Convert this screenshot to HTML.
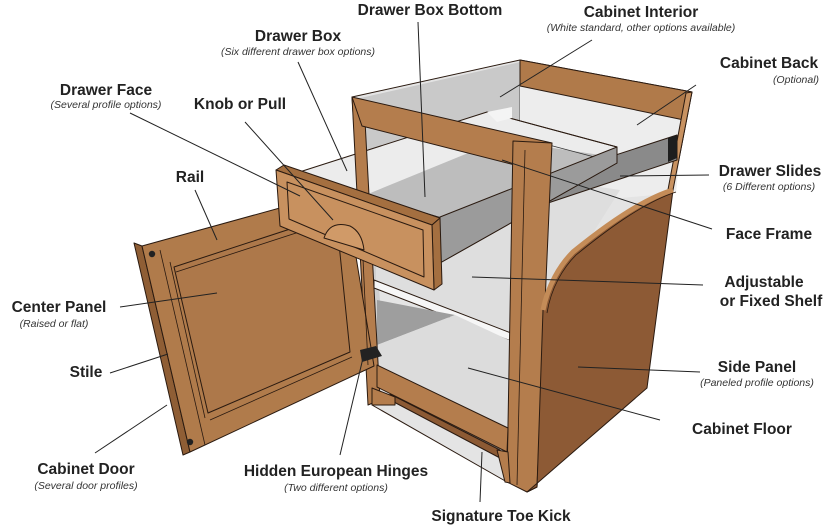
<!DOCTYPE html>
<html><head><meta charset="utf-8"><style>
html,body{margin:0;padding:0;background:#fff;}
svg{display:block;}
.b{font-family:"Liberation Sans",sans-serif;font-weight:bold;font-size:15.5px;fill:#222;}
.i{font-family:"Liberation Sans",sans-serif;font-style:italic;font-size:10.5px;fill:#333;}
.l{stroke:#222;stroke-width:1;fill:none;}
.o{stroke:#2a1a10;stroke-width:1;stroke-linejoin:round;}
</style></head><body>
<svg width="831" height="526" viewBox="0 0 831 526" xmlns="http://www.w3.org/2000/svg">
<!-- interior base -->
<polygon class="o" fill="#e4e4e4" points="352,97 520,60 692,92 673,190 543,313 537,487 507,482 372,405"/>
<!-- left back wall -->
<polygon fill="#c9c9c9" points="356,99 520,62 520,140 370,190"/>
<line x1="520" y1="60" x2="520" y2="150" stroke="#333" stroke-width="0.8"/>
<!-- back panel -->
<polygon fill="#ededed" points="520,85 683,120 676,193 600,200 520,150"/>
<!-- back top strip -->
<polygon class="o" fill="#b07a4a" points="520,60 692,92 684,120 520,86"/>
<polygon class="o" fill="#c89261" points="692,92 686,93 667,195 673,190"/>
<!-- left inner wall below drawer -->
<polygon fill="#cfcfcf" points="364,120 380,300 376,400 370,200"/>
<!-- shelf surface -->
<polygon fill="#dedede" points="376,230 520,175 620,190 543,313 511,333 376,280"/>
<!-- shelf front -->
<polygon class="o" fill="#f6f6f6" points="374,280 511,333 511,341 374,288"/>
<!-- lower area -->
<polygon fill="#9e9e9e" points="377,300 455,315 377,345"/>
<polygon fill="#dcdcdc" points="377,345 455,315 511,341 508,428 377,365"/>
<!-- drawer slide -->
<polygon class="o" fill="#8a8a8a" points="548,177 677,135 677,160 548,203"/>
<polygon fill="#1e1e1e" points="668,138 677,135 677,158 668,162"/>
<!-- drawer box -->
<polygon class="o" fill="#ececec" points="290,175 487,112 617,147 617,163 440,263 440,217"/>
<polygon fill="#bdbdbd" points="368,194 500,140 600,155 440,217 410,208"/>
<polygon class="o" fill="none" points="487,112 617,147"/>
<line x1="500" y1="132" x2="617" y2="163" stroke="#333" stroke-width="0.8"/>
<polygon class="o" fill="#9b9b9b" points="440,217 617,147 617,163 440,263"/>
<polygon fill="#f4f4f4" points="487,112 512,107 512,118 497,122"/>
<!-- face frame -->
<polygon class="o" fill="#b47d4d" points="352,97 364,102 380,400 368,405"/>
<polygon class="o" fill="#b47d4d" points="352,97 552,143 515,165 362,126"/>
<polygon class="o" fill="#b47d4d" points="513,141 552,143 537,487 527,492 507,482"/>
<line x1="525" y1="150" x2="517" y2="485" stroke="#2a1a10" stroke-width="0.8"/>
<polygon class="o" fill="#b47d4d" points="377,365 508,428 507,452 377,387"/>
<polygon class="o" fill="#8c5a34" points="390,394 500,450 500,458 392,401"/>
<polygon class="o" fill="#b47d4d" points="372,388 395,397 395,405 372,405"/>
<polygon class="o" fill="#b47d4d" points="497,450 508,452 510,483 505,482"/>
<!-- side panel -->
<path class="o" fill="#8d5a35" d="M673,190 C640,200 600,230 573,252 C560,265 548,285 543,310 L537,487 L527,492 L647,388 Z"/>
<path d="M673,190 C640,200 600,230 573,252 C560,265 548,285 543,310" stroke="#c48c58" stroke-width="5" fill="none"/>
<path d="M676,192 C642,203 603,233 576,255 C563,268 551,288 547,313" stroke="#2a1a10" stroke-width="0.8" fill="none"/>
<!-- door -->
<polygon class="o" fill="#8f5e35" points="134,243 142,246 190,452 183,455"/>
<polygon class="o" fill="#b07b4b" points="142,246 345,190 374,366 190,452"/>
<polygon class="o" fill="#ad784a" points="174,267 336,214 350,352 208,413"/>
<line x1="160" y1="250" x2="205" y2="445" stroke="#2a1a10" stroke-width="0.8"/>
<line x1="170" y1="262" x2="205" y2="418" stroke="#2a1a10" stroke-width="0.8"/>
<line x1="176" y1="272" x2="336" y2="220" stroke="#2a1a10" stroke-width="0.8"/>
<line x1="352" y1="357" x2="210" y2="420" stroke="#2a1a10" stroke-width="0.8"/>
<line x1="360" y1="195" x2="368" y2="365" stroke="#2a1a10" stroke-width="0.8"/>
<circle cx="152" cy="254" r="3.2" fill="#222"/>
<circle cx="190" cy="442" r="3.2" fill="#222"/>
<polygon fill="#222" points="360,350 376,346 382,356 362,362"/>
<!-- drawer face -->
<polygon class="o" fill="#a46f40" points="276,170 284,165 440,218 432,225"/>
<polygon class="o" fill="#a46f40" points="432,225 440,218 442,284 434,290"/>
<polygon class="o" fill="#c8915f" points="276,170 432,225 434,290 280,226"/>
<polygon class="o" fill="none" points="287,182 423,230 424,277 289,219"/>
<path class="o" fill="#d09a68" d="M324,238 Q330,220 350,226 Q362,232 364,250 Z"/>
<!-- leader lines -->
<line class="l" x1="418" y1="22" x2="425" y2="197"/>
<line class="l" x1="592" y1="40" x2="500" y2="97"/>
<line class="l" x1="298" y1="62" x2="347" y2="171"/>
<line class="l" x1="696" y1="85" x2="637" y2="125"/>
<line class="l" x1="130" y1="113" x2="300" y2="196"/>
<line class="l" x1="245" y1="122" x2="333" y2="220"/>
<line class="l" x1="709" y1="175" x2="620" y2="176"/>
<line class="l" x1="195" y1="190" x2="217" y2="240"/>
<line class="l" x1="712" y1="229" x2="502" y2="160"/>
<line class="l" x1="703" y1="285" x2="472" y2="277"/>
<line class="l" x1="120" y1="307" x2="217" y2="293"/>
<line class="l" x1="110" y1="373" x2="168" y2="354"/>
<line class="l" x1="95" y1="453" x2="167" y2="405"/>
<line class="l" x1="340" y1="455" x2="363" y2="358"/>
<line class="l" x1="480" y1="502" x2="482" y2="452"/>
<line class="l" x1="700" y1="372" x2="578" y2="367"/>
<line class="l" x1="660" y1="420" x2="468" y2="368"/>
<!-- labels -->
<g text-anchor="middle">
<text class="b" x="430" y="15">Drawer Box Bottom</text>
<text class="b" x="641" y="17">Cabinet Interior</text>
<text class="i" x="641" y="31">(White standard, other options available)</text>
<text class="b" x="298" y="41">Drawer Box</text>
<text class="i" x="298" y="55">(Six different drawer box options)</text>
<text class="b" x="769" y="68">Cabinet Back</text>
<text class="i" x="796" y="83">(Optional)</text>
<text class="b" x="106" y="95">Drawer Face</text>
<text class="i" x="106" y="108">(Several profile options)</text>
<text class="b" x="240" y="109">Knob or Pull</text>
<text class="b" x="770" y="176">Drawer Slides</text>
<text class="i" x="769" y="190">(6 Different options)</text>
<text class="b" x="190" y="182">Rail</text>
<text class="b" x="769" y="239">Face Frame</text>
<text class="b" x="764" y="287">Adjustable</text>
<text class="b" x="771" y="306">or Fixed Shelf</text>
<text class="b" x="59" y="312">Center Panel</text>
<text class="i" x="54" y="327">(Raised or flat)</text>
<text class="b" x="757" y="372">Side Panel</text>
<text class="i" x="757" y="386">(Paneled profile options)</text>
<text class="b" x="86" y="377">Stile</text>
<text class="b" x="742" y="434">Cabinet Floor</text>
<text class="b" x="86" y="474">Cabinet Door</text>
<text class="i" x="86" y="489">(Several door profiles)</text>
<text class="b" x="336" y="476">Hidden European Hinges</text>
<text class="i" x="336" y="491">(Two different options)</text>
<text class="b" x="501" y="521">Signature Toe Kick</text>
</g>
</svg>
</body></html>
